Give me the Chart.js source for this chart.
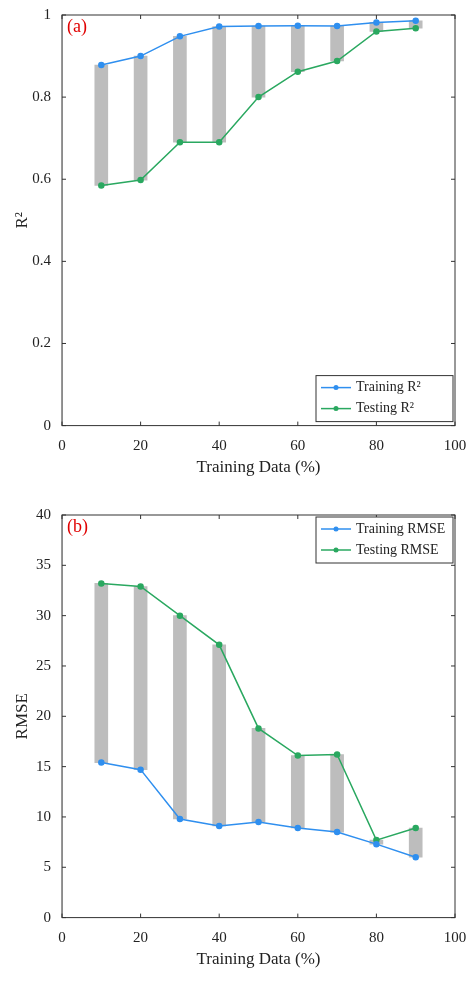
<!DOCTYPE html>
<html>
<head>
<meta charset="utf-8">
<script src="https://cdn.jsdelivr.net/npm/chart.js@4"></script>
<style>
  body { margin: 0; background: #fff; }
  .box { position: absolute; left: 0; width: 474px; }
</style>
</head>
<body>
<div class="box" style="top:0;height:490px"><canvas id="chartA"></canvas></div>
<div class="box" style="top:490px;height:492px"><canvas id="chartB"></canvas></div>
<script>
const trainingPct = [10, 20, 30, 40, 50, 60, 70, 80, 90];
const trainR2 = [0.878, 0.900, 0.948, 0.972, 0.973, 0.974, 0.973, 0.982, 0.986];
const testR2 = [0.585, 0.598, 0.690, 0.690, 0.800, 0.862, 0.888, 0.960, 0.968];
const trainRMSE = [15.4, 14.7, 9.8, 9.1, 9.5, 8.9, 8.5, 7.3, 6.0];
const testRMSE = [33.2, 32.9, 30.0, 27.1, 18.8, 16.1, 16.2, 7.7, 8.9];

const FONT = "'Liberation Serif', 'Times New Roman', serif";
const BLUE = "#2f8fef";
const GREEN = "#2aa860";

Chart.defaults.font.family = FONT;
Chart.defaults.color = "#222";

// frame, inward ticks, panel tag and legend box
const decor = {
    id: "decor",
    afterDraw(chart, args, opts) {
        const ctx = chart.ctx;
        const a = chart.chartArea;
        ctx.save();
        ctx.strokeStyle = "#333";
        ctx.lineWidth = 1;
        ctx.strokeRect(a.left, a.top, a.right - a.left, a.bottom - a.top);
        ctx.beginPath();
        chart.scales.x.ticks.forEach(t => {
            const px = chart.scales.x.getPixelForValue(t.value);
            ctx.moveTo(px, a.bottom); ctx.lineTo(px, a.bottom - 4);
            ctx.moveTo(px, a.top); ctx.lineTo(px, a.top + 4);
        });
        chart.scales.y.ticks.forEach(t => {
            const py = chart.scales.y.getPixelForValue(t.value);
            ctx.moveTo(a.left, py); ctx.lineTo(a.left + 4, py);
            ctx.moveTo(a.right, py); ctx.lineTo(a.right - 4, py);
        });
        ctx.stroke();

        ctx.fillStyle = "#e00000";
        ctx.font = "18px " + FONT;
        ctx.textBaseline = "top";
        ctx.fillText(opts.tag, a.left + 5, a.top + 3);

        const w = 137, h = 46;
        const x = a.right - w - 2;
        const y = opts.legendBottom ? a.bottom - h - 4 : a.top + 2;
        ctx.fillStyle = "#fff";
        ctx.fillRect(x, y, w, h);
        ctx.strokeRect(x, y, w, h);
        ctx.font = "14px " + FONT;
        ctx.textBaseline = "middle";
        opts.items.forEach((it, i) => {
            const cy = y + 12 + i * 21;
            ctx.strokeStyle = it.color;
            ctx.fillStyle = it.color;
            ctx.lineWidth = 1.5;
            ctx.beginPath();
            ctx.moveTo(x + 5, cy);
            ctx.lineTo(x + 35, cy);
            ctx.stroke();
            ctx.beginPath();
            ctx.arc(x + 20, cy, 2.5, 0, Math.PI * 2);
            ctx.fill();
            ctx.fillStyle = "#222";
            ctx.fillText(it.label, x + 40, cy);
        });
        ctx.restore();
    }
};

function makeChart(id, train, test, yMax, yStep, yTitle, tag, items, legendBottom, padTop) {
    const bars = trainingPct.map((p, i) => ({ x: p, y: [test[i], train[i]] }));
    const pts = arr => trainingPct.map((p, i) => ({ x: p, y: arr[i] }));
    return new Chart(document.getElementById(id), {
        data: {
            datasets: [
                { type: "line", data: pts(train), borderColor: BLUE, backgroundColor: BLUE,
                  borderWidth: 1.5, pointRadius: 2.5, order: 1 },
                { type: "line", data: pts(test), borderColor: GREEN, backgroundColor: GREEN,
                  borderWidth: 1.5, pointRadius: 2.5, order: 1 },
                { type: "bar", data: bars, backgroundColor: "#bdbdbd", barThickness: 13, order: 2 }
            ]
        },
        options: {
            responsive: true,
            maintainAspectRatio: false,
            animation: false,
            layout: { padding: { top: padTop, right: 19, left: 8, bottom: 12 } },
            plugins: {
                legend: { display: false },
                tooltip: { enabled: false },
                decor: { tag: tag, items: items, legendBottom: legendBottom }
            },
            scales: {
                x: {
                    type: "linear", min: 0, max: 100, offset: false,
                    ticks: { stepSize: 20, font: { size: 15 } },
                    grid: { display: false },
                    title: { display: true, text: "Training Data (%)", font: { size: 17 }, padding: 0 }
                },
                y: {
                    min: 0, max: yMax,
                    ticks: { stepSize: yStep, font: { size: 15 }, callback: v => String(+v.toFixed(1)) },
                    grid: { display: false },
                    title: { display: true, text: yTitle, font: { size: 17 } },
                    afterFit: s => { s.width = 54; }
                }
            }
        },
        plugins: [decor]
    });
}

makeChart("chartA", trainR2, testR2, 1, 0.2, "R\u00B2", "(a)",
    [{ label: "Training R\u00B2", color: BLUE }, { label: "Testing R\u00B2", color: GREEN }], true, 15);
makeChart("chartB", trainRMSE, testRMSE, 40, 5, "RMSE", "(b)",
    [{ label: "Training RMSE", color: BLUE }, { label: "Testing RMSE", color: GREEN }], false, 25);
</script>
</body>
</html>
